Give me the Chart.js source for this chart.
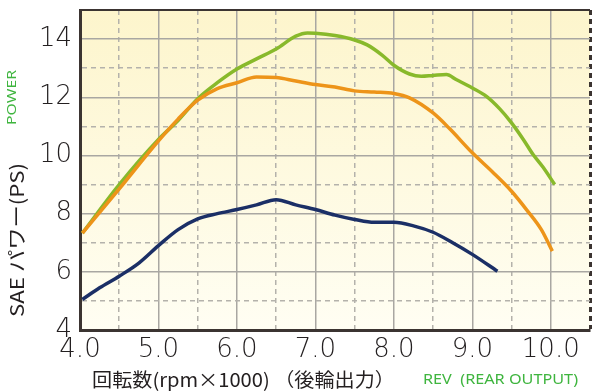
<!DOCTYPE html>
<html>
<head>
<meta charset="utf-8">
<script src="https://cdn.jsdelivr.net/npm/chart.js@4.4.1/dist/chart.umd.min.js"></script>
<style>
	html, body { margin: 0; padding: 0; background: #fff; }
	#wrap { width: 600px; height: 391px; position: relative; }
</style>
</head>
<body>
<div id="wrap"><canvas id="powerChart" width="600" height="391"></canvas></div>
<script>
// 回転数 (x1000 rpm) / パワー (PS)
const greenRpm = [4.03, 4.5, 5.0, 5.25, 5.5, 5.75, 6.0, 6.25, 6.5, 6.75, 6.9, 7.0, 7.25, 7.5, 7.66, 7.85, 8.0, 8.2, 8.35, 8.5, 8.67, 8.8, 9.0, 9.18, 9.35, 9.5, 9.65, 9.77, 9.9, 10.05];
const greenPs  = [7.33, 9.0, 10.55, 11.2, 11.95, 12.5, 12.97, 13.32, 13.66, 14.1, 14.21, 14.2, 14.12, 13.97, 13.8, 13.45, 13.1, 12.8, 12.72, 12.75, 12.78, 12.6, 12.32, 12.03, 11.6, 11.12, 10.55, 10.05, 9.6, 9.0];

const orangeRpm = [4.03, 4.5, 5.0, 5.25, 5.5, 5.75, 6.0, 6.25, 6.5, 6.75, 7.0, 7.25, 7.5, 7.75, 8.0, 8.2, 8.5, 8.7, 9.0, 9.27, 9.5, 9.69, 9.88, 10.02];
const orangePs  = [7.33, 8.85, 10.5, 11.25, 11.9, 12.3, 12.5, 12.7, 12.68, 12.56, 12.44, 12.35, 12.22, 12.18, 12.13, 11.98, 11.46, 10.95, 10.09, 9.4, 8.77, 8.14, 7.45, 6.71];

const navyRpm = [4.03, 4.25, 4.5, 4.75, 5.0, 5.25, 5.5, 5.75, 6.0, 6.25, 6.5, 6.75, 7.0, 7.25, 7.5, 7.75, 8.0, 8.25, 8.5, 8.75, 9.0, 9.32];
const navyPs  = [5.05, 5.45, 5.85, 6.3, 6.9, 7.45, 7.82, 8.0, 8.14, 8.3, 8.48, 8.3, 8.14, 7.95, 7.8, 7.7, 7.7, 7.58, 7.36, 7.0, 6.6, 6.02];

const xTickLabels = ['4.0', '5.0', '6.0', '7.0', '8.0', '9.0', '10.0'];
const yTickLabels = ['4', '6', '8', '10', '12', '14'];

const yTitle = 'SAE パワー(PS)';
const yTitleEn = 'POWER';
const xTitle = '回転数(rpm×1000) （後輪出力）';
const xTitleEn = 'REV  (REAR OUTPUT)';

const FRAME = '#3b3431';
const GRID = '#a9a7a2';
const DASH = '#b4b2ab';
const TEXT = '#231f20';
const GREENTEXT = '#3fb53f';
const TICKFONT = { family: '"DejaVu Sans", Lato, sans-serif', size: 26, weight: 200 };

const toPoints = (xs, ys) => xs.map((x, i) => ({ x: x, y: ys[i] }));

const lineSet = (data, color) => ({
	data: data,
	borderColor: color,
	borderWidth: 3.5,
	pointRadius: 0,
	tension: 0.4,
	cubicInterpolationMode: 'monotone',
	fill: false
});

// 글자를 지정 폭에 맞춰 그림
const fitText = (ctx, text, cx, cy, width, rot, font, color) => {
	ctx.save();
	ctx.font = font;
	ctx.fillStyle = color;
	ctx.textAlign = 'center';
	ctx.textBaseline = 'middle';
	ctx.translate(cx, cy);
	if (rot) ctx.rotate(-Math.PI / 2);
	const w = ctx.measureText(text).width;
	ctx.scale(width / w, 1);
	ctx.fillText(text, 0, 0);
	ctx.restore();
};

// 배경 그라데이션 + 축 제목
const decoPlugin = {
	id: 'deco',
	beforeDraw: (chart) => {
		const { ctx, chartArea: a } = chart;
		const g = ctx.createLinearGradient(0, a.top, 0, a.bottom);
		g.addColorStop(0, '#fdf5cc');
		g.addColorStop(1, '#fffef3');
		ctx.save();
		ctx.fillStyle = g;
		ctx.fillRect(a.left, a.top, a.right - a.left, a.bottom - a.top);
		ctx.restore();
	},
	afterDraw: (chart) => {
		const ctx = chart.ctx;
		fitText(ctx, yTitle, 17, 240, 154, true, '19px "Noto Sans CJK JP", "Noto Sans", sans-serif', TEXT);
		fitText(ctx, yTitleEn, 12.5, 97.5, 55, true, '13px "Noto Sans", sans-serif', GREENTEXT);
		fitText(ctx, xTitle, 243.5, 380, 303, false, '19px "Noto Sans CJK JP", "Noto Sans", sans-serif', TEXT);
		fitText(ctx, xTitleEn, 500.5, 380, 155, false, '15px "Noto Sans", sans-serif', GREENTEXT);
	}
};

const ctx = document.getElementById('powerChart');
new Chart(ctx, {
	type: 'line',
	data: {
		datasets: [
			lineSet(toPoints(navyRpm, navyPs), '#1b2f66'),
			lineSet(toPoints(orangeRpm, orangePs), '#ed9419'),
			lineSet(toPoints(greenRpm, greenPs), '#88b92b')
		]
	},
	options: {
		responsive: false,
		animation: false,
		layout: { padding: { top: 10, right: 10, left: 0, bottom: 0 } },
		plugins: { legend: { display: false }, tooltip: { enabled: false } },
		scales: {
			x: {
				type: 'linear',
				min: 4, max: 10.5,
				afterFit: (s) => { s.height = 61; s.paddingLeft = 0; s.paddingRight = 0; },
				ticks: {
					stepSize: 0.5,
					autoSkip: false,
					maxRotation: 0,
					padding: 5,
					color: TEXT,
					font: TICKFONT,
					callback: (v) => {
						const i = xTickLabels.indexOf(Number(v).toFixed(1));
						return i >= 0 ? xTickLabels[i] : '';
					}
				},
				grid: {
					drawTicks: false,
					color: (c) => c.tick && c.tick.value === 10.5 ? FRAME : (c.tick && c.tick.value % 1 ? DASH : GRID),
					lineWidth: (c) => c.tick && c.tick.value === 10.5 ? 3 : 1.5
				},
				border: {
					color: FRAME, width: 3,
					dash: (c) => c.tick && c.tick.value % 1 ? [5, 4] : []
				}
			},
			y: {
				min: 4, max: 15,
				afterFit: (s) => { s.width = 80; s.paddingTop = 0; s.paddingBottom = 0; },
				ticks: {
					stepSize: 1,
					autoSkip: false,
					padding: 8,
					color: TEXT,
					font: TICKFONT,
					callback: (v) => {
						const i = yTickLabels.indexOf(String(v));
						return i >= 0 ? yTickLabels[i] : '';
					}
				},
				grid: {
					drawTicks: false,
					color: (c) => c.tick && c.tick.value === 15 ? FRAME : (c.tick && c.tick.value % 2 ? DASH : GRID),
					lineWidth: (c) => c.tick && c.tick.value === 15 ? 2 : 1.5
				},
				border: {
					color: FRAME, width: 3,
					dash: (c) => c.tick && c.tick.value % 2 && c.tick.value !== 15 ? [5, 4] : []
				}
			}
		}
	},
	plugins: [decoPlugin]
});
</script>
</body>
</html>
